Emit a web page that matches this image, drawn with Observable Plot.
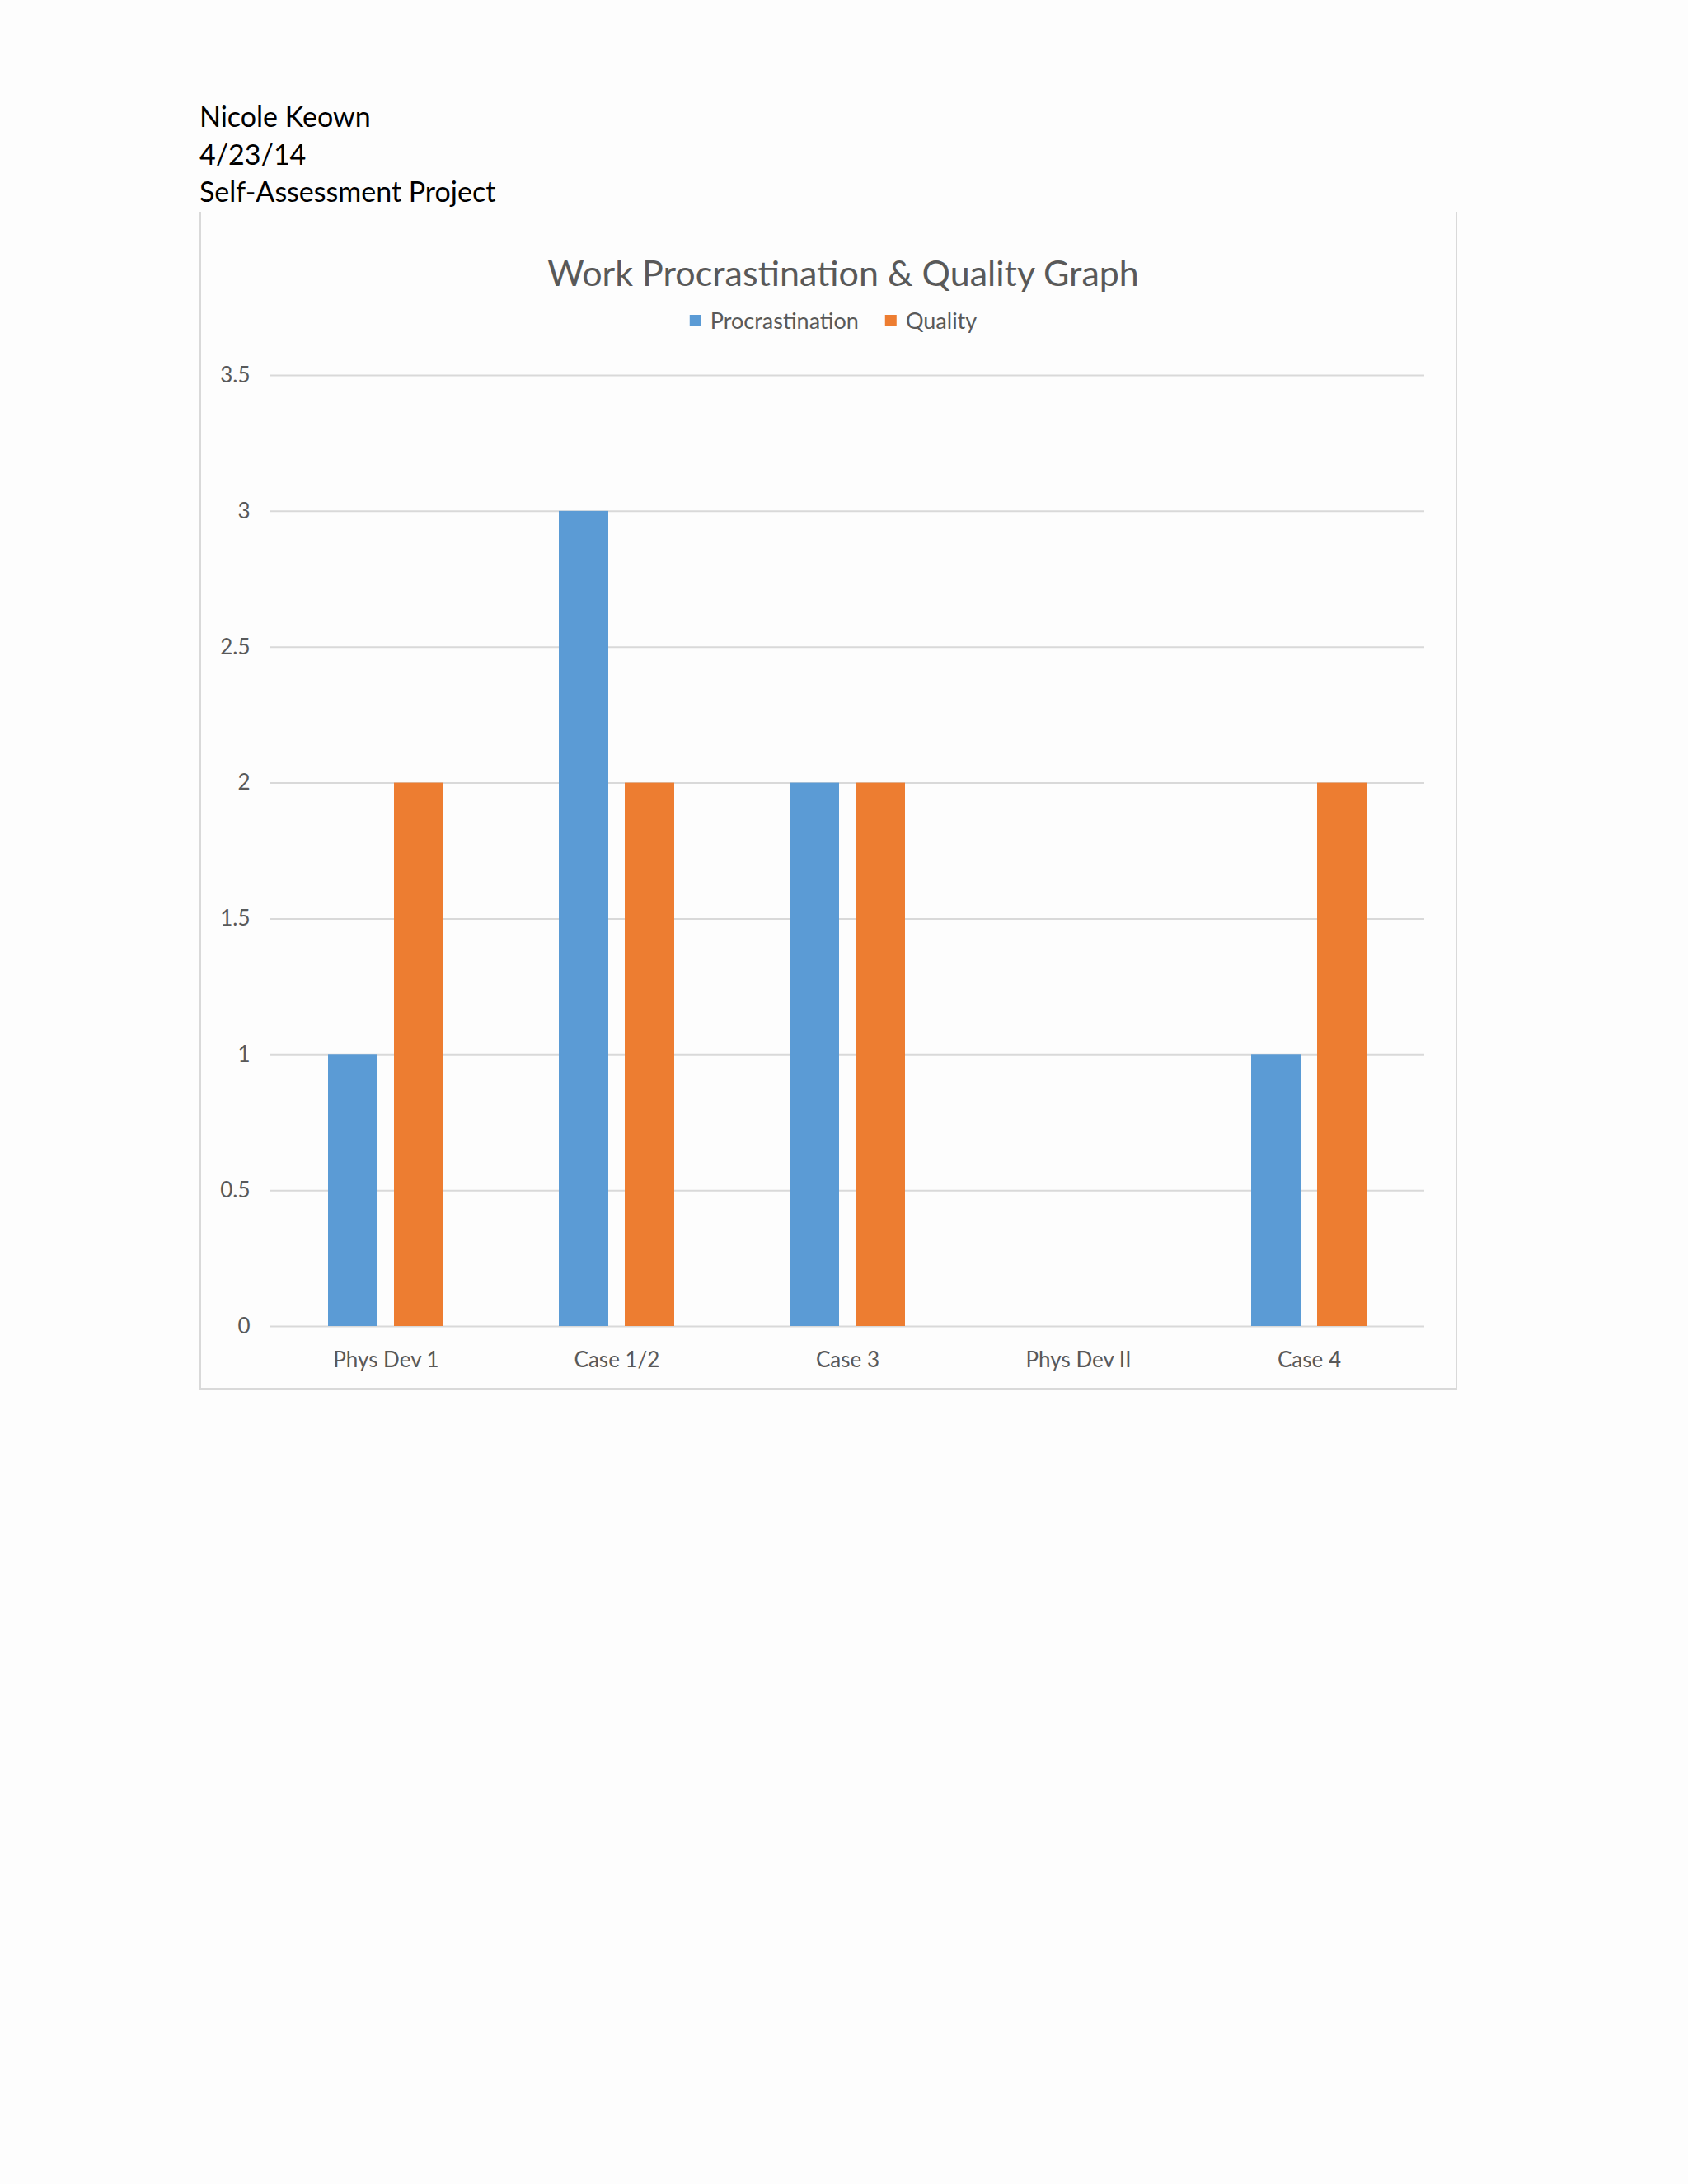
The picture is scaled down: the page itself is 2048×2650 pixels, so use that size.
<!DOCTYPE html>
<html>
<head>
<meta charset="utf-8">
<script src="https://cdn.jsdelivr.net/npm/d3@7"></script>
<script src="https://cdn.jsdelivr.net/npm/@observablehq/plot@0.6"></script>
<style>
  html, body { margin: 0; padding: 0; }
  body { width: 2048px; height: 2650px; position: relative; background: #fdfdfd; font-family: Lato, "Open Sans", sans-serif; }
  #header { position: absolute; left: 242px; top: 118px; font-size: 34px; line-height: 45.6px; color: #000; white-space: nowrap; }
  #box { position: absolute; left: 242px; top: 257px; width: 1522px; height: 1427px;
         border-left: 2px solid #d9d9d9; border-right: 2px solid #d9d9d9; border-bottom: 2px solid #d9d9d9; }
  #chart { position: absolute; left: 242px; top: 257px; }
  #title { position: absolute; left: 1023px; top: 305px; transform: translateX(-50%); font-size: 43px; color: #595959; white-space: nowrap; line-height: 52px; }
  #legend { position: absolute; left: 1011px; top: 373px; transform: translateX(-50%); font-size: 27px; color: #595959; white-space: nowrap; display: flex; align-items: center; line-height: 32px; }
  .sw { display: inline-block; width: 14px; height: 14px; margin-right: 11px; }
  .item { display: flex; align-items: center; margin-right: 32px; }
  .item:last-child { margin-right: 0; }
</style>
</head>
<body>
<div id="header"></div>
<div id="box"></div>
<div id="chart"></div>
<div id="title"></div>
<div id="legend"></div>
<script>
// ---- data ----
const headerLines = ["Nicole Keown", "4/23/14", "Self-Assessment Project"];
const chartTitle = "Work Procrastination & Quality Graph";
const categories = ["Phys Dev 1", "Case 1/2", "Case 3", "Phys Dev II", "Case 4"];
const series = ["Procrastination", "Quality"];
const seriesColors = ["#5B9BD5", "#ED7D31"];
const procrastination = [1, 3, 2, null, 1];
const quality = [2, 2, 2, null, 2];
const yTicks = [0, 0.5, 1, 1.5, 2, 2.5, 3, 3.5];

// ---- build table (keep empty categories so their facet is kept) ----
const rows = [];
categories.forEach((c, i) => {
  rows.push({category: c, series: series[0], value: procrastination[i]});
  rows.push({category: c, series: series[1], value: quality[i]});
});

document.getElementById("header").innerHTML = headerLines.map(l => `<div>${l}</div>`).join("");
document.getElementById("title").textContent = chartTitle;
document.getElementById("legend").innerHTML = series.map((s, i) =>
  `<span class="item"><span class="sw" style="background:${seriesColors[i]}"></span>${s}</span>`).join("");

const plot = Plot.plot({
  width: 1524,
  height: 1429,
  marginLeft: 84,
  marginRight: 36,
  marginTop: 198,
  marginBottom: 77,
  style: { fontFamily: "Lato, 'Open Sans', sans-serif", background: "transparent", color: "#595959" },
  fx: { domain: categories, padding: 0, label: null },
  x: { domain: series, paddingInner: 0.247, paddingOuter: 0.857, axis: null },
  y: { domain: [0, 3.5], label: null },
  color: { domain: series, range: seriesColors },
  marks: [
    Plot.ruleY(yTicks, { stroke: "#d9d9d9", strokeWidth: 2, strokeOpacity: 1 }),
    Plot.barY(rows, { fx: "category", x: "series", y: "value", fill: "series", filter: d => d.value != null }),
    Plot.barY(rows, { fx: "category", x: "series", y: "value", fillOpacity: 0, filter: d => d.value == null }),
    Plot.axisY(yTicks, { tickSize: 0, tickPadding: 25, fontSize: 26, fill: "#595959", label: null, tickFormat: d => `${d}` }),
    Plot.axisFx({ anchor: "bottom", tickSize: 0, tickPadding: 31, fontSize: 26, fill: "#595959", label: null })
  ]
});
document.getElementById("chart").appendChild(plot);
</script>
</body>
</html>
